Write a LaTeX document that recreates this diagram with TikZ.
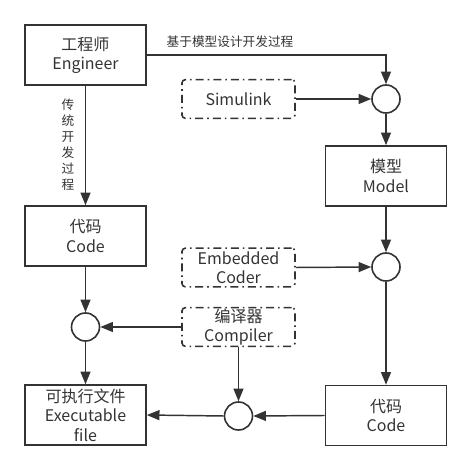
\documentclass[tikz,border=0pt]{standalone}
\usepackage{fontspec}
\setmainfont{Noto Sans CJK SC}
\usepackage{xcolor}
\definecolor{grisos}{RGB}{51, 51, 51}
\usepackage{tikz}
\usetikzlibrary{shapes, arrows, positioning, arrows.meta}

\begin{document}
\begin{tikzpicture}[x=0.75pt, y=-0.75pt,
    caja/.style={draw=grisos, line width=1.2pt, minimum width=90.75pt, minimum height=45pt,
        inner sep=0pt, align=center, text=grisos, font=\fontsize{12}{14.5}\selectfont},
    herramienta/.style={caja, rounded corners=2.5pt, minimum width=84.75pt, minimum height=29pt,
        dash pattern=on 6pt off 3pt on 1.2pt off 3pt},
    circulo/.style={draw=grisos, line width=1.2pt, circle, minimum size=21pt, inner sep=0pt},
    flecha/.style={draw=grisos, line width=1.1pt, -{Triangle[length=9.5pt, width=7.5pt]}},
    etiqueta/.style={text=grisos, font=\fontsize{9.5}{12}\selectfont, align=center, inner sep=0pt}]
        \useasboundingbox (0,0) rectangle (472,470);
        % Cajas principales
        \node[caja] (ingeniero) at (85.5,55) {工程师\\Engineer};
        \node[caja] (codigoA) at (85.5,236) {代码\\Code};
        \node[caja] (ejecutable) at (85.5,415) {可执行文件\\Executable\\file};
        \node[caja] (modelo) at (386,176) {模型\\Model};
        \node[caja] (codigoB) at (386,415.5) {代码\\Code};
        % Herramientas
        \node[herramienta] (simulink) at (238.5,99) {Simulink};
        \node[herramienta] (coder) at (238.5,267.5) {Embedded\\Coder};
        \node[herramienta] (compilador) at (238.5,327) {编译器\\Compiler};
        % Circulos de union
        \foreach \n/\x/\y in {c1/386/99, c2/386/267, c3/85.5/327, c4/238.5/416} {
            \node[circulo] (\n) at (\x,\y) {};
        }
        % Flechas
        \draw[flecha] (ingeniero.east) -| (c1.north);
        \draw[flecha] (simulink.east) -- (c1.west);
        \draw[flecha] (c1.south) -- (modelo.north);
        \draw[flecha] (modelo.south) -- (c2.north);
        \draw[flecha] (coder.east) -- (c2.west);
        \draw[flecha] (c2.south) -- (codigoB.north);
        \draw[flecha] (codigoB.west) -- (c4.east);
        \draw[flecha] (compilador.south) -- (c4.north);
        \draw[flecha] (c4.west) -- (ejecutable.east);
        \draw[flecha] (ingeniero.south) -- (codigoA.north);
        \draw[flecha] (codigoA.south) -- (c3.north);
        \draw[flecha] (compilador.west) -- (c3.east);
        \draw[flecha] (c3.south) -- (ejecutable.north);
        % Textos de los caminos
        \node[etiqueta] (basado) at (230,42) {基于模型设计开发过程};
        \node[etiqueta] (tradicional) at (68,145) {传\\统\\开\\发\\过\\程};
    \end{tikzpicture}
\end{document}
